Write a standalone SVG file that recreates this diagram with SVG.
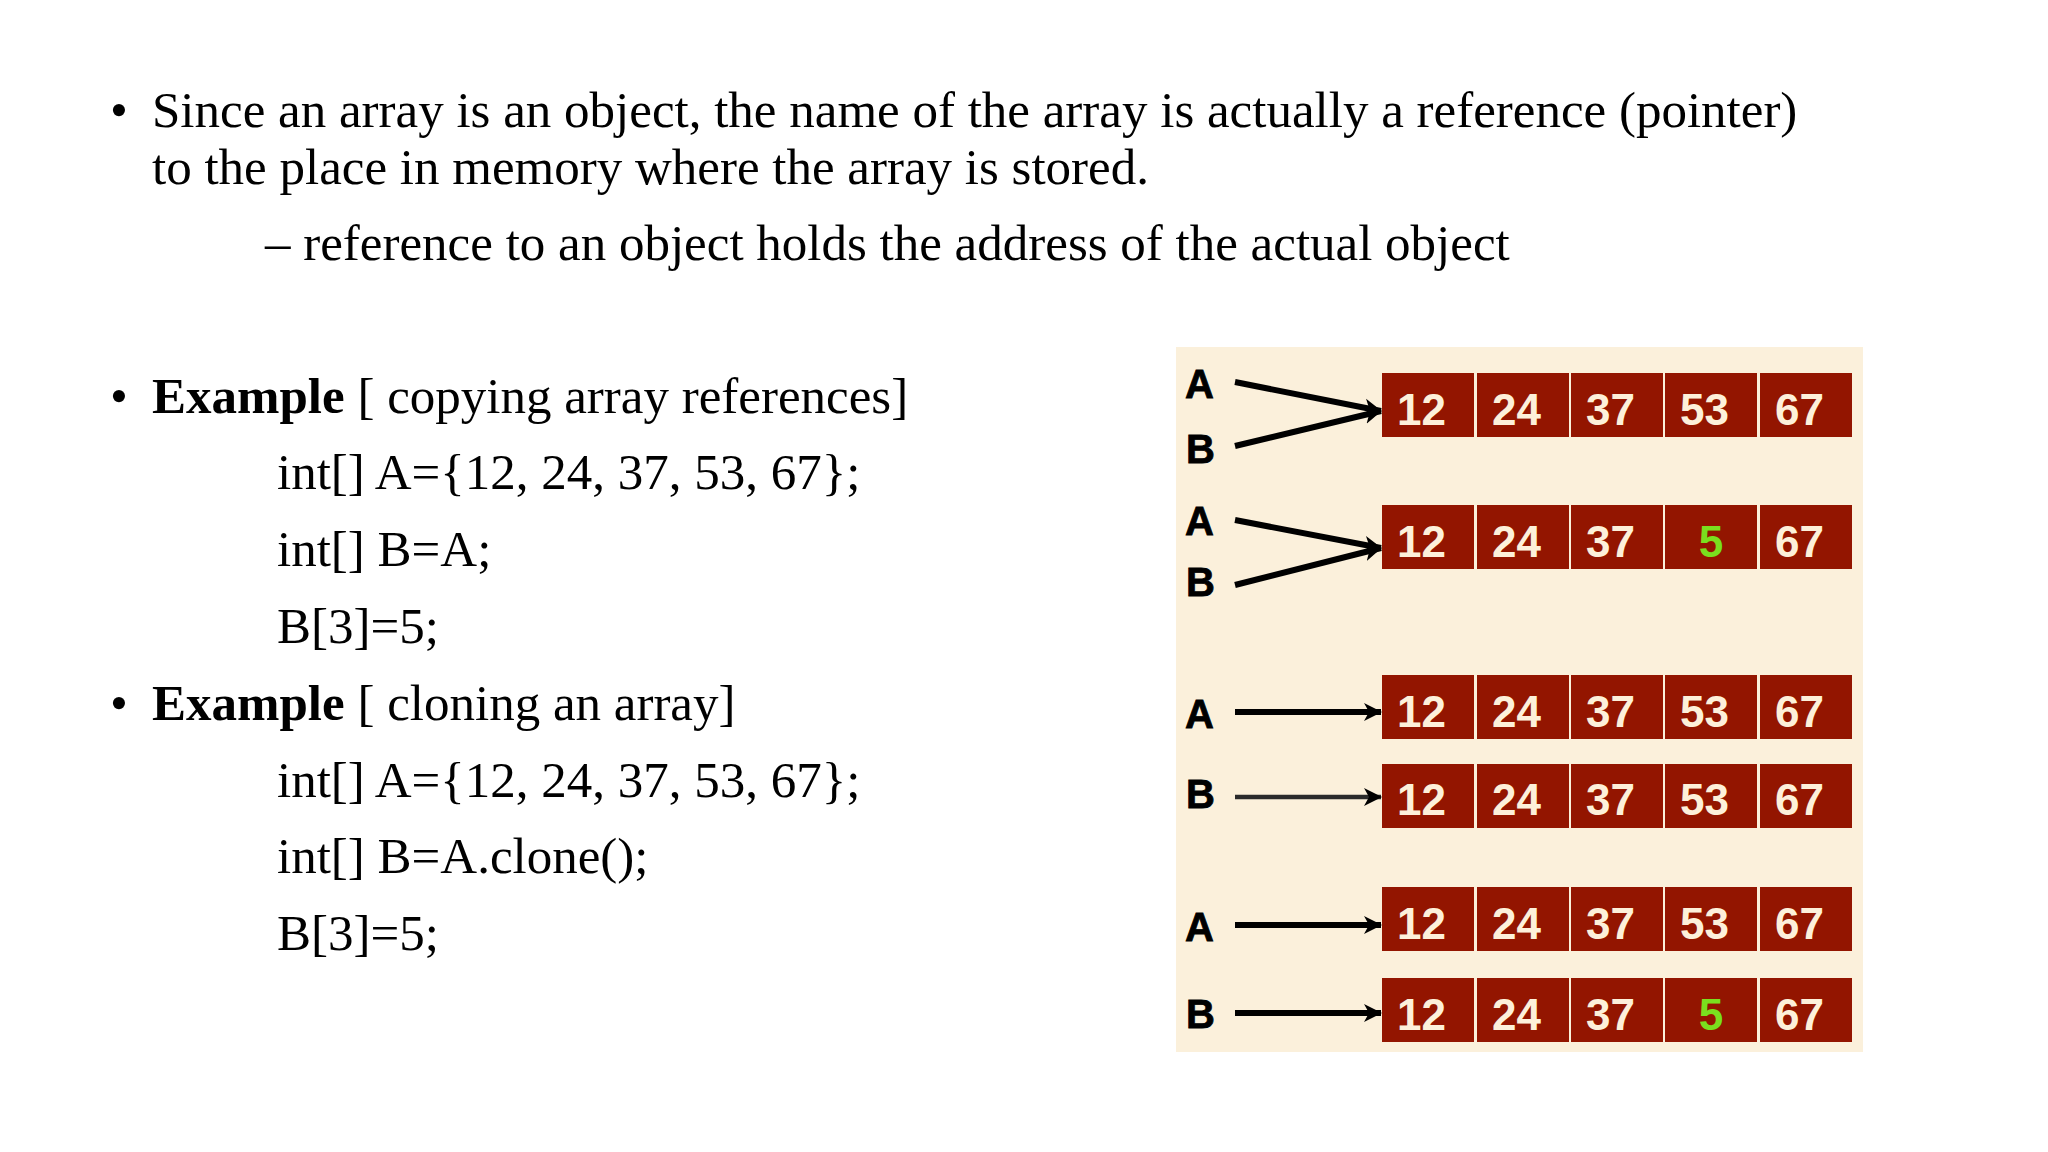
<svg xmlns="http://www.w3.org/2000/svg" width="2048" height="1152" viewBox="0 0 2048 1152">
<style>
.t{font-family:"Liberation Serif","Times New Roman",serif;font-size:51px;fill:#000}
.b{font-weight:bold}
.cell{fill:#931500}
.n{font-family:"Liberation Sans",Arial,sans-serif;font-weight:bold;font-size:44px;fill:#FDF0DA}
.g{fill:#7ADF1E}
.lbl{font-family:"Liberation Sans",Arial,sans-serif;font-weight:bold;font-size:40px;fill:#000;stroke:#000;stroke-width:0.8}
.arr{stroke:#000;stroke-width:6;fill:none;marker-end:url(#ah)}
.thin{stroke:#2a2a2a;stroke-width:4.5}
</style>
<defs>
<marker id="ah" markerUnits="userSpaceOnUse" markerWidth="18" markerHeight="20" viewBox="0 0 18 20" refX="17" refY="10" orient="auto">
<path d="M0,1 L18,10 L0,19 L5,10 z" fill="#000"/>
</marker>
<g id="row">
<rect class="cell" x="1382" y="0" width="92" height="64"/>
<rect class="cell" x="1477" y="0" width="92" height="64"/>
<rect class="cell" x="1571" y="0" width="92" height="64"/>
<rect class="cell" x="1665" y="0" width="92" height="64"/>
<rect class="cell" x="1760" y="0" width="92" height="64"/>
</g>
</defs>
<rect width="2048" height="1152" fill="#fff"/>

<g id="text-block">
<text class="t" x="110" y="127">•</text>
<text class="t" x="152" y="127">Since an array is an object, the name of the array is actually a reference (pointer)</text>
<text class="t" x="152" y="184">to the place in memory where the array is stored.</text>
<text class="t" x="265" y="260">– reference to an object holds the address of the actual object</text>
<text class="t" x="110" y="413">•</text>
<text class="t" x="152" y="413"><tspan class="b">Example</tspan> [ copying array references]</text>
<text class="t" x="277" y="489">int[] A={12, 24, 37, 53, 67};</text>
<text class="t" x="277" y="566">int[] B=A;</text>
<text class="t" x="277" y="643">B[3]=5;</text>
<text class="t" x="110" y="720">•</text>
<text class="t" x="152" y="720"><tspan class="b">Example</tspan> [ cloning an array]</text>
<text class="t" x="277" y="797">int[] A={12, 24, 37, 53, 67};</text>
<text class="t" x="277" y="873">int[] B=A.clone();</text>
<text class="t" x="277" y="950">B[3]=5;</text>
</g>

<g id="panel">
<rect x="1176" y="347" width="687" height="705" fill="#FBF0DB"/>
</g>

<g id="array1">
<use href="#row" y="373"/>
<text class="n" x="1397" y="425">12</text><text class="n" x="1492" y="425">24</text><text class="n" x="1586" y="425">37</text><text class="n" x="1680" y="425">53</text><text class="n" x="1775" y="425">67</text>
</g>
<g id="array2">
<use href="#row" y="505"/>
<text class="n" x="1397" y="557">12</text><text class="n" x="1492" y="557">24</text><text class="n" x="1586" y="557">37</text><text class="n g" x="1711" y="557" text-anchor="middle">5</text><text class="n" x="1775" y="557">67</text>
</g>
<g id="array3">
<use href="#row" y="675"/>
<text class="n" x="1397" y="727">12</text><text class="n" x="1492" y="727">24</text><text class="n" x="1586" y="727">37</text><text class="n" x="1680" y="727">53</text><text class="n" x="1775" y="727">67</text>
</g>
<g id="array4">
<use href="#row" y="764"/>
<text class="n" x="1397" y="815">12</text><text class="n" x="1492" y="815">24</text><text class="n" x="1586" y="815">37</text><text class="n" x="1680" y="815">53</text><text class="n" x="1775" y="815">67</text>
</g>
<g id="array5">
<use href="#row" y="887"/>
<text class="n" x="1397" y="939">12</text><text class="n" x="1492" y="939">24</text><text class="n" x="1586" y="939">37</text><text class="n" x="1680" y="939">53</text><text class="n" x="1775" y="939">67</text>
</g>
<g id="array6">
<use href="#row" y="978"/>
<text class="n" x="1397" y="1030">12</text><text class="n" x="1492" y="1030">24</text><text class="n" x="1586" y="1030">37</text><text class="n g" x="1711" y="1030" text-anchor="middle">5</text><text class="n" x="1775" y="1030">67</text>
</g>

<g id="labels">
<text class="lbl" x="1185" y="398">A</text>
<text class="lbl" x="1186" y="463">B</text>
<text class="lbl" x="1185" y="535">A</text>
<text class="lbl" x="1186" y="596">B</text>
<text class="lbl" x="1185" y="728">A</text>
<text class="lbl" x="1186" y="808">B</text>
<text class="lbl" x="1185" y="941">A</text>
<text class="lbl" x="1186" y="1028">B</text>
</g>

<g id="connectors">
<line class="arr" x1="1235" y1="382" x2="1381" y2="411"/>
<line class="arr" x1="1235" y1="446" x2="1381" y2="411"/>
<line class="arr" x1="1235" y1="520" x2="1381" y2="548"/>
<line class="arr" x1="1235" y1="585" x2="1381" y2="548"/>
<line class="arr" x1="1235" y1="712" x2="1381" y2="712"/>
<line class="arr thin" x1="1235" y1="797" x2="1381" y2="797"/>
<line class="arr" x1="1235" y1="925" x2="1381" y2="925"/>
<line class="arr" x1="1235" y1="1013" x2="1381" y2="1013"/>
</g>
</svg>
